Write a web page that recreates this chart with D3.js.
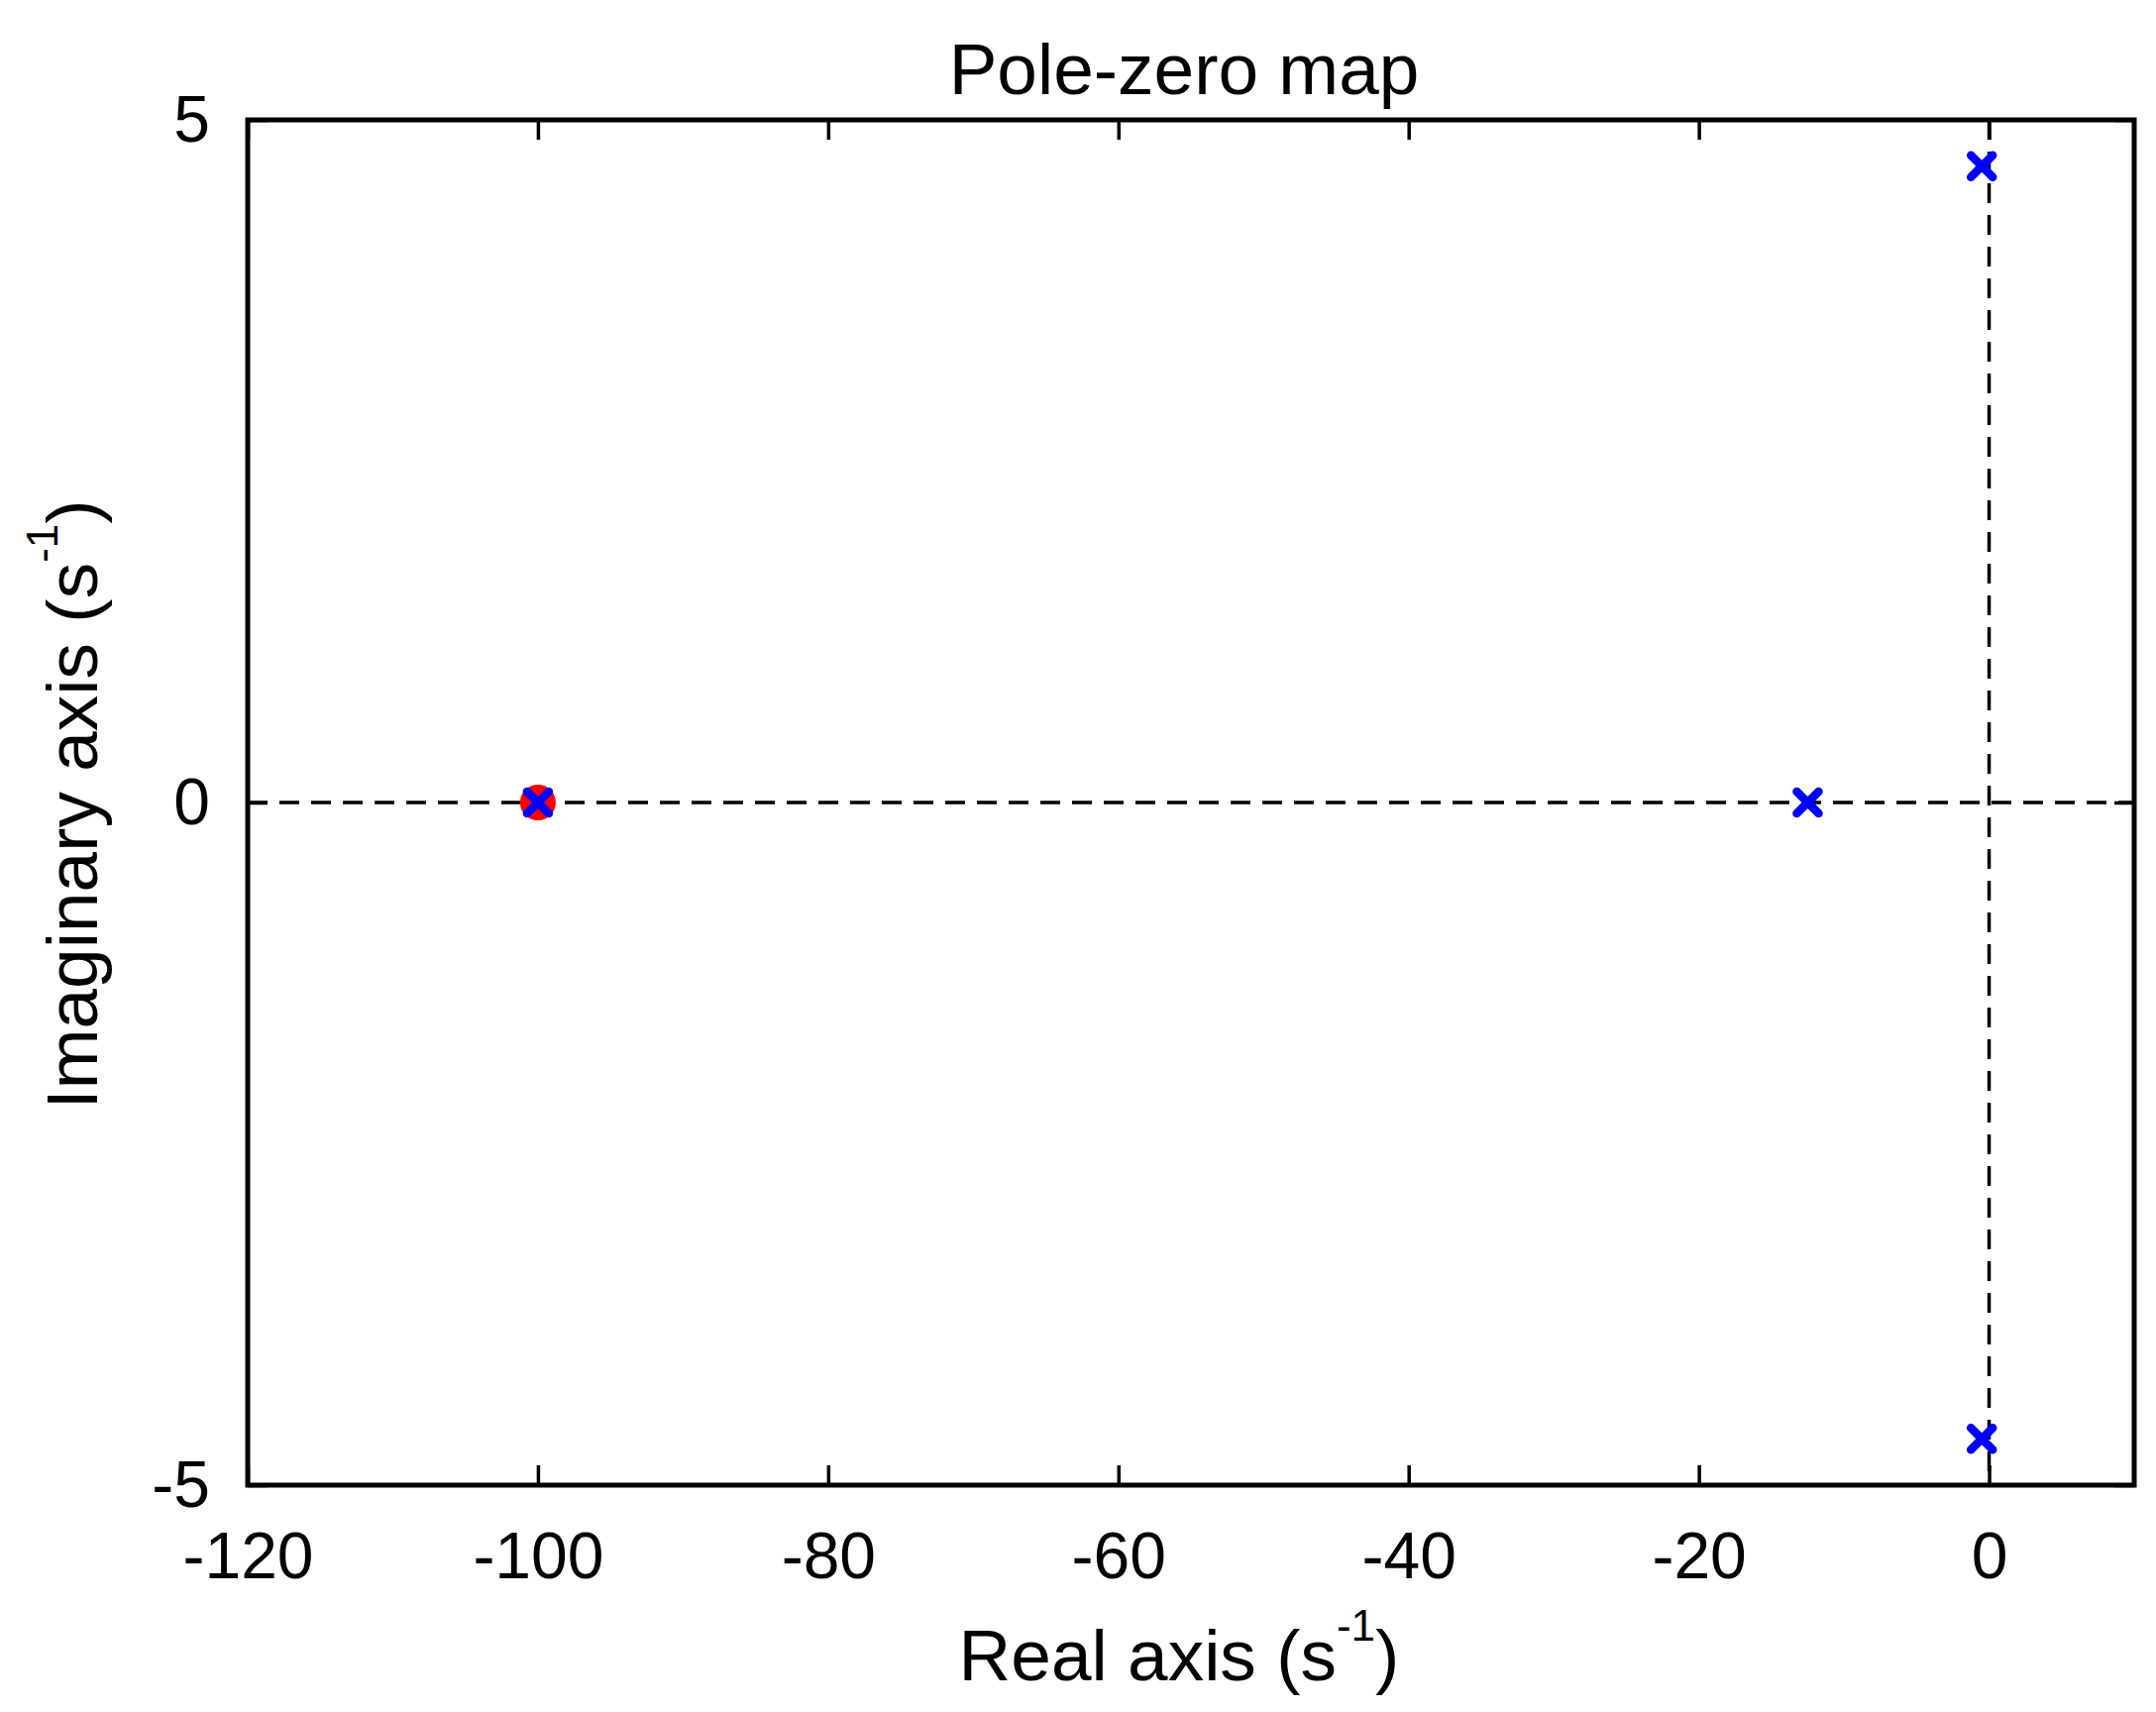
<!DOCTYPE html>
<html>
<head>
<meta charset="utf-8">
<script src="https://cdn.jsdelivr.net/npm/d3@7"></script>
<style>
  html, body { margin: 0; padding: 0; background: #fff; }
  svg { display: block; }
  text { font-family: "Liberation Sans", Arial, sans-serif; fill: #000; }
</style>
</head>
<body>
<script>
// ---- data ----
const poleReal = [-100, -12.5, -0.5, -0.5];
const poleImag = [0, 0, 4.66, -4.66];
const zeroReal = [-100];
const zeroImag = [0];
const xTicks = [-120, -100, -80, -60, -40, -20, 0];
const yTicks = [-5, 0, 5];
const xDomain = [-120, 10];
const yDomain = [-5, 5];
const titleText = "Pole-zero map";
const xLabelText = "Real axis (s";
const yLabelText = "Imaginary axis (s";
const supText = "-1";

// ---- layout ----
const W = 2176, H = 1728;
const L = 250, R = 2154, T = 121, B = 1499;

const svg = d3.select("body").append("svg").attr("width", W).attr("height", H);
svg.append("rect").attr("width", W).attr("height", H).attr("fill", "#fff");

const x = d3.scaleLinear().domain(xDomain).range([L, R]);
const y = d3.scaleLinear().domain(yDomain).range([B, T]);

const tickFont = 66;
const fmt = d => String(d);

// dashed grid lines at zero
svg.append("line")
  .attr("x1", x(xDomain[0])).attr("x2", x(xDomain[1]))
  .attr("y1", y(0)).attr("y2", y(0))
  .attr("stroke", "#000").attr("stroke-width", 3.5).attr("stroke-dasharray", "20 12");
svg.append("line")
  .attr("x1", x(0)).attr("x2", x(0))
  .attr("y1", y(yDomain[1])).attr("y2", y(yDomain[0]))
  .attr("stroke", "#000").attr("stroke-width", 3.5).attr("stroke-dasharray", "20 12");

// axes
function styleAxis(g, showText) {
  g.select(".domain").remove();
  g.selectAll(".tick line").attr("stroke", "#000").attr("stroke-width", 3.5);
  g.selectAll(".tick text")
    .attr("font-size", tickFont)
    .attr("font-family", '"Liberation Sans", Arial, sans-serif')
    .attr("fill", "#000");
  if (!showText) g.selectAll(".tick text").remove();
}

svg.append("g").attr("transform", `translate(0,${B})`)
  .call(d3.axisBottom(x).tickValues(xTicks).tickFormat(fmt)
        .tickSizeInner(-20).tickSizeOuter(0).tickPadding(47))
  .call(g => styleAxis(g, true));
svg.append("g").attr("transform", `translate(0,${T})`)
  .call(d3.axisTop(x).tickValues(xTicks).tickSizeInner(-20).tickSizeOuter(0))
  .call(g => styleAxis(g, false));
svg.append("g").attr("transform", `translate(${L},0)`)
  .call(d3.axisLeft(y).tickValues(yTicks).tickFormat(fmt)
        .tickSizeInner(-20).tickSizeOuter(0).tickPadding(38))
  .call(g => styleAxis(g, true));
svg.append("g").attr("transform", `translate(${R},0)`)
  .call(d3.axisRight(y).tickValues(yTicks).tickSizeInner(-20).tickSizeOuter(0))
  .call(g => styleAxis(g, false));

// frame
svg.append("rect")
  .attr("x", L).attr("y", T).attr("width", R - L).attr("height", B - T)
  .attr("fill", "none").attr("stroke", "#000").attr("stroke-width", 5);

// zeros: red filled circles
const zeros = zeroReal.map((r, i) => ({ re: r, im: zeroImag[i] }));
svg.append("g").selectAll("circle").data(zeros).join("circle")
  .attr("cx", d => x(d.re)).attr("cy", d => y(d.im))
  .attr("r", 17).attr("fill", "#ff0000").attr("stroke", "#ff0000").attr("stroke-width", 2);

// poles: blue x marks
const poles = poleReal.map((r, i) => ({ re: r, im: poleImag[i] }));
const s = 11;
svg.append("g").selectAll("path").data(poles).join("path")
  .attr("d", d => {
    const cx = x(d.re), cy = y(d.im);
    return `M${cx - s},${cy - s}L${cx + s},${cy + s}M${cx - s},${cy + s}L${cx + s},${cy - s}`;
  })
  .attr("stroke", "#0000ff").attr("stroke-width", 8.5).attr("stroke-linecap", "round").attr("fill", "none");

// title
svg.append("text").attr("x", 1195).attr("y", 95)
  .attr("text-anchor", "middle").attr("font-size", 73).text(titleText);

// x label
const xl = svg.append("text").attr("x", 1190).attr("y", 1696)
  .attr("text-anchor", "middle").attr("font-size", 73);
xl.append("tspan").text(xLabelText);
xl.append("tspan").attr("font-size", 44).attr("dy", -40).text(supText);
xl.append("tspan").attr("dy", 40).text(")");

// y label
const yl = svg.append("text")
  .attr("transform", "translate(98,812) rotate(-90)")
  .attr("text-anchor", "middle").attr("font-size", 73);
yl.append("tspan").text(yLabelText);
yl.append("tspan").attr("font-size", 44).attr("dy", -40).text(supText);
yl.append("tspan").attr("dy", 40).text(")");
</script>
</body>
</html>
